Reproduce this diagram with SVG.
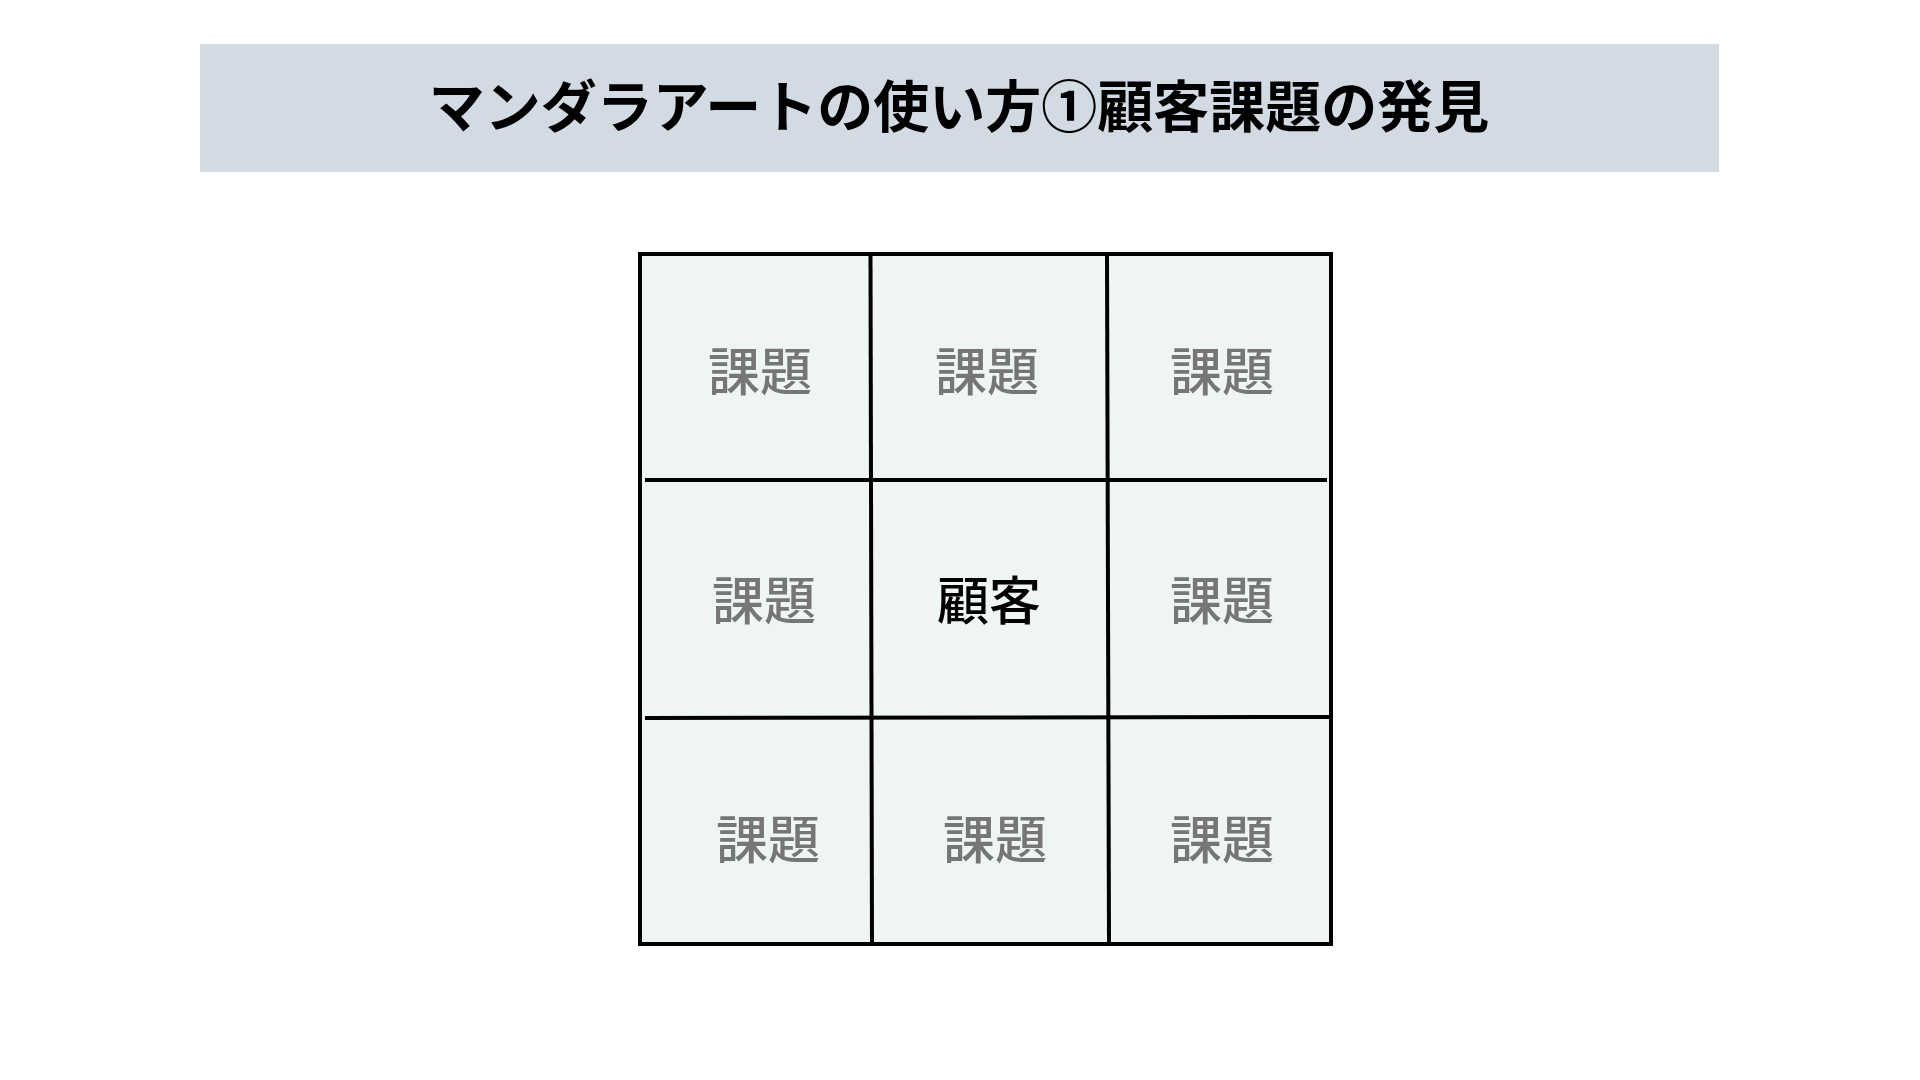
<svg xmlns="http://www.w3.org/2000/svg" width="1920" height="1080" viewBox="0 0 1920 1080">
<style>
.cell{fill:#EFF5F3;stroke:none}
.t{font-family:"Noto Sans CJK JP","Noto Sans CJK SC",sans-serif;font-size:52px;font-weight:500;text-anchor:middle}
.sub{fill:#767676}
.main{fill:#000000}
.title{font-family:"Noto Sans CJK JP","Noto Sans CJK SC",sans-serif;font-size:56px;font-weight:bold;text-anchor:middle;fill:#000}
.ln{stroke:#000;stroke-width:4;fill:none;stroke-linecap:butt}
</style>
<rect width="1920" height="1080" fill="#FFFFFF"/>
<g id="header">
<rect x="200" y="44" width="1519" height="128" fill="#D2DAE4"/>
<text class="title" x="959" y="127">マンダラアートの使い方①顧客課題の発見</text>
</g>
<g id="cell-1-1"><rect class="cell" x="640" y="253" width="231" height="227"/><text class="t sub" x="760" y="391">課題</text></g>
<g id="cell-1-2"><rect class="cell" x="871" y="253" width="237" height="227"/><text class="t sub" x="987" y="391">課題</text></g>
<g id="cell-1-3"><rect class="cell" x="1108" y="253" width="223" height="227"/><text class="t sub" x="1222" y="391">課題</text></g>
<g id="cell-2-1"><rect class="cell" x="640" y="480" width="231" height="237"/><text class="t sub" x="764" y="620">課題</text></g>
<g id="cell-2-2"><rect class="cell" x="871" y="480" width="237" height="237"/><text class="t main" x="989" y="620">顧客</text></g>
<g id="cell-2-3"><rect class="cell" x="1108" y="480" width="223" height="237"/><text class="t sub" x="1222" y="620">課題</text></g>
<g id="cell-3-1"><rect class="cell" x="640" y="717" width="231" height="227"/><text class="t sub" x="768" y="859">課題</text></g>
<g id="cell-3-2"><rect class="cell" x="871" y="717" width="237" height="227"/><text class="t sub" x="995" y="859">課題</text></g>
<g id="cell-3-3"><rect class="cell" x="1108" y="717" width="223" height="227"/><text class="t sub" x="1222" y="859">課題</text></g>
<g id="connectors">
<rect class="ln" x="640" y="254" width="691" height="690"/>
<line class="ln" x1="645" y1="480" x2="1327" y2="480"/>
<line class="ln" x1="645" y1="718" x2="1331" y2="717"/>
<line class="ln" x1="870.5" y1="254" x2="872" y2="944"/>
<line class="ln" x1="1107" y1="254" x2="1109" y2="944"/>
</g>
</svg>
